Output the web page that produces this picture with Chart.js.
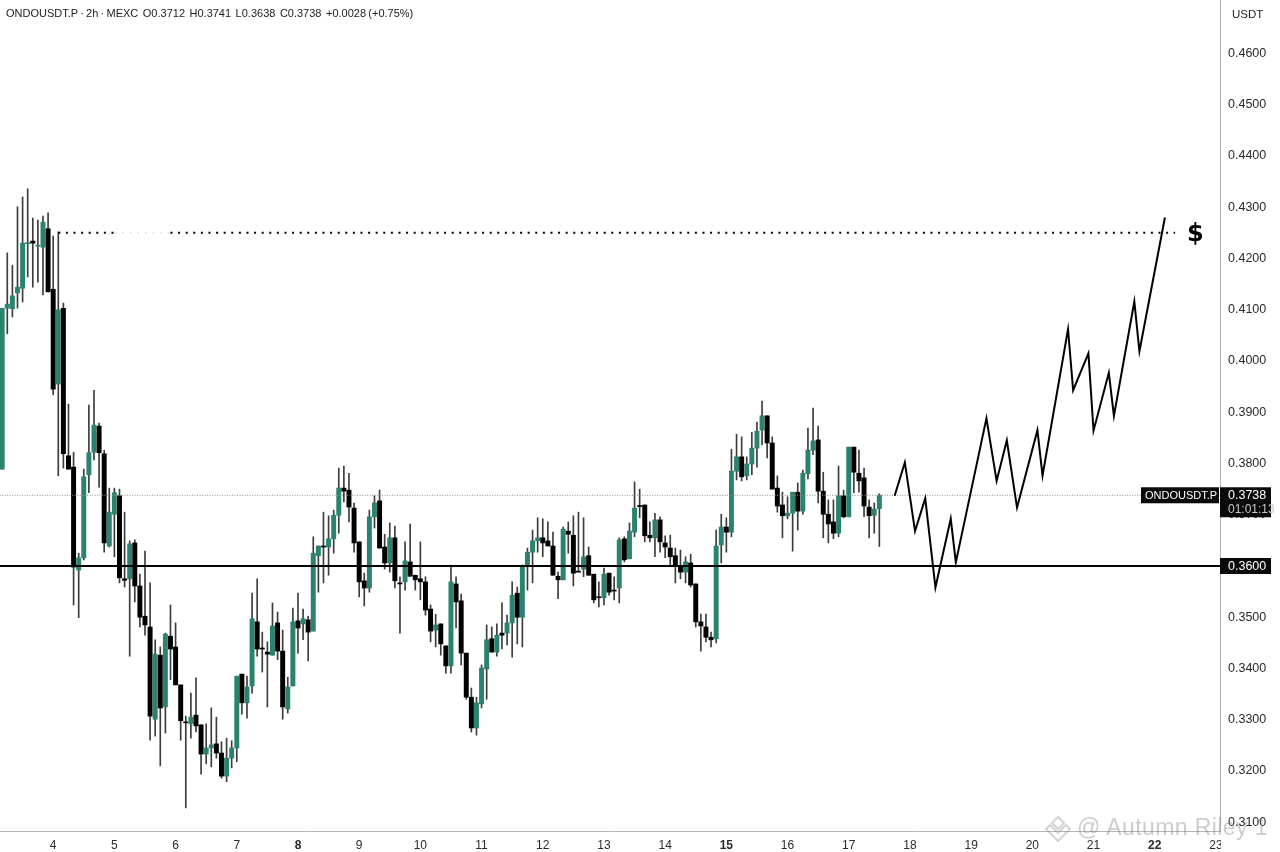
<!DOCTYPE html>
<html>
<head>
<meta charset="utf-8">
<title>ONDOUSDT.P</title>
<script src="https://cdn.jsdelivr.net/npm/chart.js@4"></script>
<style>
  html, body { margin: 0; padding: 0; background: #fff; overflow: hidden; }
  body { width: 1280px; height: 852px; position: relative; font-family: "Liberation Sans", Arial, sans-serif; }
  canvas { position: absolute; left: 0; top: 0; }
  .txt { position: absolute; white-space: pre; }
  #title { left: 6px; top: 7px; font-size: 11px; word-spacing: -0.8px; color: #222; }
  #unit { left: 1232px; top: 8px; font-size: 11.5px; color: #222; }
  #dollar { left: 1187px; top: 219px; font-family: "DejaVu Sans", sans-serif; font-size: 24px; font-weight: bold; color: #000; }
  #mark { left: 1077px; top: 814px; font-size: 23px; color: rgba(120, 120, 120, 0.38); letter-spacing: 0.4px; }
  #markIcon { position: absolute; left: 1044px; top: 815px; }
</style>
</head>
<body>
<canvas id="chart" width="1280" height="852"></canvas>
<div class="txt" id="title">ONDOUSDT.P · 2h · MEXC  O0.3712  H0.3741  L0.3638  C0.3738  +0.0028 (+0.75%)</div>
<div class="txt" id="unit">USDT</div>
<div class="txt" id="dollar">$</div>
<svg id="markIcon" width="28" height="28" viewBox="0 0 28 28" fill="none" stroke="rgba(120,120,120,0.32)" stroke-width="2">
  <path d="M14 2 L20 8 L14 14 L8 8 Z"/><path d="M6 10 L14 18 L22 10 L26 14 L14 26 L2 14 Z"/>
</svg>
<div class="txt" id="mark">@ Autumn Riley 1</div>
<script>
// candles, 2h
const opens = [
  0.3789, 0.4103, 0.4102, 0.4133, 0.4142, 0.4229, 0.4234, 0.4224, 0.4222, 0.4258,
  0.4140, 0.3955, 0.4103, 0.3815, 0.3793, 0.3592, 0.3616, 0.3778, 0.3822, 0.3873,
  0.3819, 0.3639, 0.3701, 0.3737, 0.3575, 0.3575, 0.3645, 0.3561, 0.3502, 0.3481,
  0.3301, 0.3426, 0.3325, 0.3463, 0.3442, 0.3368, 0.3295, 0.3292, 0.3309, 0.3290,
  0.3233, 0.3245, 0.3253, 0.3235, 0.3190, 0.3225, 0.3245, 0.3389, 0.3333, 0.3366,
  0.3491, 0.3440, 0.3432, 0.3426, 0.3489, 0.3434, 0.3321, 0.3366, 0.3493, 0.3487,
  0.3495, 0.3473, 0.3620, 0.3639, 0.3637, 0.3653, 0.3699, 0.3752, 0.3748, 0.3713,
  0.3647, 0.3571, 0.3557, 0.3696, 0.3727, 0.3637, 0.3606, 0.3655, 0.3567, 0.3569,
  0.3608, 0.3582, 0.3575, 0.3569, 0.3516, 0.3475, 0.3487, 0.3444, 0.3405, 0.3565,
  0.3532, 0.3430, 0.3344, 0.3284, 0.3331, 0.3399, 0.3458, 0.3432, 0.3469, 0.3469,
  0.3489, 0.3547, 0.3500, 0.3600, 0.3627, 0.3649, 0.3655, 0.3649, 0.3639, 0.3580,
  0.3573, 0.3668, 0.3660, 0.3590, 0.3594, 0.3620, 0.3584, 0.3540, 0.3538, 0.3586,
  0.3553, 0.3557, 0.3653, 0.3614, 0.3666, 0.3717, 0.3719, 0.3660, 0.3655, 0.3690,
  0.3645, 0.3635, 0.3620, 0.3598, 0.3588, 0.3606, 0.3565, 0.3491, 0.3481, 0.3461,
  0.3458, 0.3641, 0.3676, 0.3666, 0.3785, 0.3813, 0.3776, 0.3799, 0.3830, 0.3865,
  0.3893, 0.3840, 0.3752, 0.3719, 0.3698, 0.3703, 0.3744, 0.3707, 0.3780, 0.3826,
  0.3846, 0.3746, 0.3701, 0.3686, 0.3664, 0.3737, 0.3696, 0.3832, 0.3781, 0.3772,
  0.3715, 0.3699, 0.3712
];
const highs = [
  0.4103, 0.4211, 0.4187, 0.4301, 0.4320, 0.4336, 0.4279, 0.4275, 0.4283, 0.4289,
  0.4244, 0.4252, 0.4113, 0.3916, 0.3822, 0.3625, 0.3789, 0.3914, 0.3943, 0.3879,
  0.3826, 0.3752, 0.3752, 0.3750, 0.3705, 0.3649, 0.3651, 0.3584, 0.3629, 0.3567,
  0.3456, 0.3442, 0.3469, 0.3524, 0.3489, 0.3368, 0.3307, 0.3352, 0.3382, 0.3290,
  0.3292, 0.3323, 0.3305, 0.3257, 0.3264, 0.3259, 0.3385, 0.3389, 0.3385, 0.3547,
  0.3575, 0.3471, 0.3452, 0.3528, 0.3510, 0.3475, 0.3383, 0.3518, 0.3547, 0.3516,
  0.3502, 0.3657, 0.3639, 0.3705, 0.3698, 0.3709, 0.3791, 0.3795, 0.3781, 0.3723,
  0.3647, 0.3586, 0.3709, 0.3737, 0.3748, 0.3662, 0.3684, 0.3678, 0.3579, 0.3647,
  0.3682, 0.3582, 0.3647, 0.3579, 0.3524, 0.3506, 0.3487, 0.3444, 0.3602, 0.3579,
  0.3545, 0.3430, 0.3362, 0.3344, 0.3407, 0.3485, 0.3481, 0.3487, 0.3528, 0.3504,
  0.3569, 0.3559, 0.3602, 0.3635, 0.3670, 0.3694, 0.3692, 0.3686, 0.3666, 0.3588,
  0.3676, 0.3686, 0.3698, 0.3705, 0.3694, 0.3637, 0.3584, 0.3569, 0.3596, 0.3586,
  0.3579, 0.3655, 0.3657, 0.3684, 0.3764, 0.3750, 0.3719, 0.3686, 0.3703, 0.3696,
  0.3659, 0.3660, 0.3635, 0.3631, 0.3618, 0.3623, 0.3565, 0.3506, 0.3506, 0.3471,
  0.3670, 0.3701, 0.3694, 0.3828, 0.3857, 0.3852, 0.3813, 0.3861, 0.3881, 0.3922,
  0.3893, 0.3852, 0.3776, 0.3744, 0.3735, 0.3744, 0.3762, 0.3787, 0.3869, 0.3908,
  0.3873, 0.3783, 0.3729, 0.3729, 0.3795, 0.3748, 0.3832, 0.3832, 0.3826, 0.3791,
  0.3729, 0.3723, 0.3741
];
const lows = [
  0.3789, 0.4053, 0.4086, 0.4103, 0.4115, 0.4164, 0.4144, 0.4154, 0.4129, 0.4135,
  0.3934, 0.3776, 0.3791, 0.3789, 0.3524, 0.3499, 0.3612, 0.3743, 0.3807, 0.3754,
  0.3627, 0.3637, 0.3618, 0.3567, 0.3559, 0.3424, 0.3530, 0.3481, 0.3465, 0.3260,
  0.3268, 0.3210, 0.3274, 0.3378, 0.3368, 0.3260, 0.3128, 0.3264, 0.3276, 0.3194,
  0.3214, 0.3208, 0.3225, 0.3186, 0.3179, 0.3206, 0.3218, 0.3311, 0.3303, 0.3352,
  0.3424, 0.3393, 0.3325, 0.3426, 0.3417, 0.3301, 0.3313, 0.3366, 0.3430, 0.3456,
  0.3415, 0.3473, 0.3549, 0.3567, 0.3582, 0.3625, 0.3664, 0.3725, 0.3686, 0.3627,
  0.3540, 0.3522, 0.3549, 0.3674, 0.3635, 0.3594, 0.3588, 0.3557, 0.3469, 0.3553,
  0.3580, 0.3553, 0.3534, 0.3504, 0.3452, 0.3442, 0.3426, 0.3391, 0.3391, 0.3479,
  0.3407, 0.3340, 0.3276, 0.3270, 0.3323, 0.3340, 0.3432, 0.3424, 0.3438, 0.3446,
  0.3422, 0.3448, 0.3442, 0.3553, 0.3567, 0.3627, 0.3618, 0.3639, 0.3582, 0.3536,
  0.3573, 0.3625, 0.3561, 0.3588, 0.3579, 0.3582, 0.3528, 0.3520, 0.3524, 0.3543,
  0.3534, 0.3528, 0.3608, 0.3614, 0.3657, 0.3694, 0.3647, 0.3647, 0.3618, 0.3627,
  0.3616, 0.3602, 0.3567, 0.3575, 0.3567, 0.3559, 0.3481, 0.3434, 0.3452, 0.3442,
  0.3450, 0.3606, 0.3627, 0.3657, 0.3768, 0.3766, 0.3768, 0.3778, 0.3793, 0.3836,
  0.3811, 0.3750, 0.3705, 0.3655, 0.3692, 0.3629, 0.3670, 0.3701, 0.3770, 0.3817,
  0.3723, 0.3655, 0.3645, 0.3653, 0.3657, 0.3694, 0.3696, 0.3743, 0.3744, 0.3696,
  0.3655, 0.3664, 0.3638
];
const closes = [
  0.4103, 0.4111, 0.4127, 0.4144, 0.4230, 0.4231, 0.4230, 0.4226, 0.4271, 0.4135,
  0.3945, 0.4100, 0.3819, 0.3789, 0.3598, 0.3616, 0.3774, 0.3821, 0.3875, 0.3821,
  0.3645, 0.3705, 0.3743, 0.3577, 0.3572, 0.3643, 0.3561, 0.3500, 0.3485, 0.3307,
  0.3428, 0.3323, 0.3467, 0.3438, 0.3368, 0.3298, 0.3294, 0.3305, 0.3288, 0.3233,
  0.3245, 0.3251, 0.3235, 0.3190, 0.3225, 0.3245, 0.3385, 0.3333, 0.3364, 0.3497,
  0.3438, 0.3438, 0.3428, 0.3483, 0.3434, 0.3325, 0.3364, 0.3491, 0.3479, 0.3497,
  0.3471, 0.3625, 0.3639, 0.3637, 0.3653, 0.3699, 0.3752, 0.3746, 0.3715, 0.3645,
  0.3569, 0.3557, 0.3696, 0.3723, 0.3635, 0.3606, 0.3655, 0.3571, 0.3565, 0.3610,
  0.3580, 0.3573, 0.3569, 0.3514, 0.3473, 0.3485, 0.3448, 0.3405, 0.3569, 0.3530,
  0.3430, 0.3344, 0.3284, 0.3333, 0.3401, 0.3456, 0.3432, 0.3465, 0.3465, 0.3489,
  0.3543, 0.3500, 0.3598, 0.3627, 0.3649, 0.3655, 0.3645, 0.3639, 0.3582, 0.3573,
  0.3672, 0.3662, 0.3586, 0.3588, 0.3618, 0.3582, 0.3534, 0.3538, 0.3584, 0.3549,
  0.3551, 0.3651, 0.3612, 0.3668, 0.3713, 0.3716, 0.3659, 0.3655, 0.3690, 0.3647,
  0.3637, 0.3618, 0.3600, 0.3588, 0.3608, 0.3563, 0.3491, 0.3483, 0.3461, 0.3456,
  0.3639, 0.3676, 0.3666, 0.3785, 0.3813, 0.3774, 0.3799, 0.3830, 0.3863, 0.3893,
  0.3840, 0.3750, 0.3717, 0.3698, 0.3703, 0.3744, 0.3707, 0.3781, 0.3826, 0.3844,
  0.3746, 0.3701, 0.3682, 0.3664, 0.3737, 0.3696, 0.3832, 0.3783, 0.3766, 0.3717,
  0.3698, 0.3711, 0.3738
];

// hand drawn projection after the last candle
const pathBars = [175, 177, 179, 181, 183, 186, 187, 193, 195, 197, 199, 203, 204, 209, 210, 213, 214, 217, 218, 222, 223, 228];
const pathPrices = [0.3737, 0.3802, 0.3668, 0.3732, 0.3558, 0.3692, 0.3607, 0.3888, 0.3766, 0.3845, 0.3714, 0.3865, 0.3776, 0.4062, 0.3943, 0.4015, 0.3864, 0.3977, 0.3893, 0.4116, 0.4019, 0.4280];

const symbol = "ONDOUSDT.P";
const countdown = "01:01:13";
const lastPrice = 0.3738;
const supportPrice = 0.36;
const targetPrice = 0.425;
const targetBars = [11, 22, 33, 230]; // second stretch is almost erased in the picture

const dayLabels = ["4", "5", "6", "7", "8", "9", "10", "11", "12", "13", "14", "15", "16", "17", "18", "19", "20", "21", "22", "23"];
const dayBars = [10, 22, 34, 46, 58, 70, 82, 94, 106, 118, 130, 142, 154, 166, 178, 190, 202, 214, 226, 238];
const boldDays = ["8", "15", "22"];
const priceTicks = [0.31, 0.32, 0.33, 0.34, 0.35, 0.36, 0.37, 0.38, 0.39, 0.40, 0.41, 0.42, 0.43, 0.44, 0.45, 0.46];

const GREEN = "#2b8270";
const BLACK = "#000000";
const WICK = "#3c3c3c";
const AXIS = "#b5b5b5";
const FONT = '"Liberation Sans", Arial, sans-serif';

const bars = opens.map((o, i) => i);

// black boxes on the price axis, they follow the y scale
const priceTags = {
  id: "priceTags",
  afterDraw(chart) {
    const c = chart.ctx;
    const area = chart.chartArea;
    const y = chart.scales.y;
    c.save();

    // last day label runs under the axis column
    c.fillStyle = "#fff";
    c.fillRect(area.right + 1, area.bottom + 1, 60, 25);

    c.textBaseline = "middle";

    const lastY = y.getPixelForValue(lastPrice);
    c.fillStyle = "#0a0a0a";
    c.fillRect(area.right - 79, lastY - 8, 78, 16);
    c.fillRect(area.right, lastY - 8, 51, 30);
    c.textAlign = "left";
    c.fillStyle = "#fff";
    c.font = "11px " + FONT;
    c.fillText(symbol, area.right - 75, lastY + 0.5);
    c.font = "12.5px " + FONT;
    c.fillText(lastPrice.toFixed(4), area.right + 8, lastY + 0.5);
    c.fillStyle = "#c8c8c8";
    c.font = "12px " + FONT;
    c.fillText(countdown, area.right + 8, lastY + 14.5);

    const supY = y.getPixelForValue(supportPrice);
    c.fillStyle = "#0a0a0a";
    c.fillRect(area.right, supY - 8, 51, 16);
    c.fillStyle = "#fff";
    c.font = "12.5px " + FONT;
    c.fillText(supportPrice.toFixed(4), area.right + 8, supY + 0.5);
    c.restore();
  },
};

new Chart(document.getElementById("chart"), {
  type: "bar",
  data: {
    datasets: [
      {
        label: "wicks",
        data: bars.map((i) => ({ x: i, y: [lows[i], highs[i]] })),
        backgroundColor: WICK,
        barThickness: 1,
        grouped: false,
        order: 5,
      },
      {
        label: "bodies",
        data: bars.map((i) => ({ x: i, y: [opens[i], closes[i]] })),
        backgroundColor: bars.map((i) => (closes[i] >= opens[i] ? GREEN : BLACK)),
        barThickness: 4.3,
        minBarLength: 1,
        grouped: false,
        order: 4,
      },
      {
        type: "line",
        label: "last",
        data: [{ x: -1, y: lastPrice }, { x: 240, y: lastPrice }],
        borderColor: "#8c8c8c",
        borderWidth: 1,
        borderDash: [1, 1.5],
        pointRadius: 0,
        order: 3,
      },
      {
        type: "line",
        label: "support",
        data: [{ x: -1, y: supportPrice }, { x: 240, y: supportPrice }],
        borderColor: BLACK,
        borderWidth: 2,
        pointRadius: 0,
        order: 2,
      },
      {
        type: "line",
        label: "target",
        data: targetBars.map((x) => ({ x: x, y: targetPrice })),
        borderColor: BLACK,
        borderWidth: 2,
        borderDash: [2, 5.6],
        pointRadius: 0,
        segment: {
          borderColor: (ctx) => (ctx.p0DataIndex === 1 ? "rgba(0,0,0,0.1)" : BLACK),
        },
        order: 1,
      },
      {
        type: "line",
        label: "path",
        data: pathBars.map((x, i) => ({ x: x, y: pathPrices[i] })),
        borderColor: BLACK,
        borderWidth: 2,
        pointRadius: 0,
        tension: 0,
        borderJoinStyle: "miter",
        order: 0,
      },
    ],
  },
  options: {
    responsive: false,
    animation: false,
    layout: { padding: 0 },
    plugins: {
      legend: { display: false },
      tooltip: { enabled: false },
    },
    scales: {
      x: {
        type: "linear",
        offset: false,
        min: -0.43,
        max: 238.8,
        grid: { display: false, drawTicks: false },
        border: { color: AXIS },
        afterFit: (s) => {
          s.height = 21;
          s.paddingLeft = 0;
          s.paddingRight = 0;
        },
        afterBuildTicks: (s) => { s.ticks = dayBars.map((v) => ({ value: v })); },
        ticks: {
          autoSkip: false,
          maxRotation: 0,
          padding: 7,
          color: "#2a2a2a",
          font: (ctx) => ({
            family: FONT,
            size: 12,
            weight: boldDays.includes(dayLabels[dayBars.indexOf(ctx.tick && ctx.tick.value)]) ? "bold" : "normal",
          }),
          callback: (v) => dayLabels[dayBars.indexOf(v)],
        },
      },
      y: {
        position: "right",
        min: 0.30829,
        max: 0.47044,
        grid: { display: false, drawTicks: false },
        border: { color: AXIS },
        afterFit: (s) => {
          s.width = 60;
          // chart area has to reach the top of the canvas
          s.paddingTop = 0;
          s.paddingBottom = 0;
        },
        afterBuildTicks: (s) => { s.ticks = priceTicks.map((v) => ({ value: v })); },
        ticks: {
          padding: 8,
          color: "#2a2a2a",
          font: { family: FONT, size: 12.5 },
          callback: (v) => v.toFixed(4),
        },
      },
    },
  },
  plugins: [priceTags],
});
</script>
</body>
</html>
